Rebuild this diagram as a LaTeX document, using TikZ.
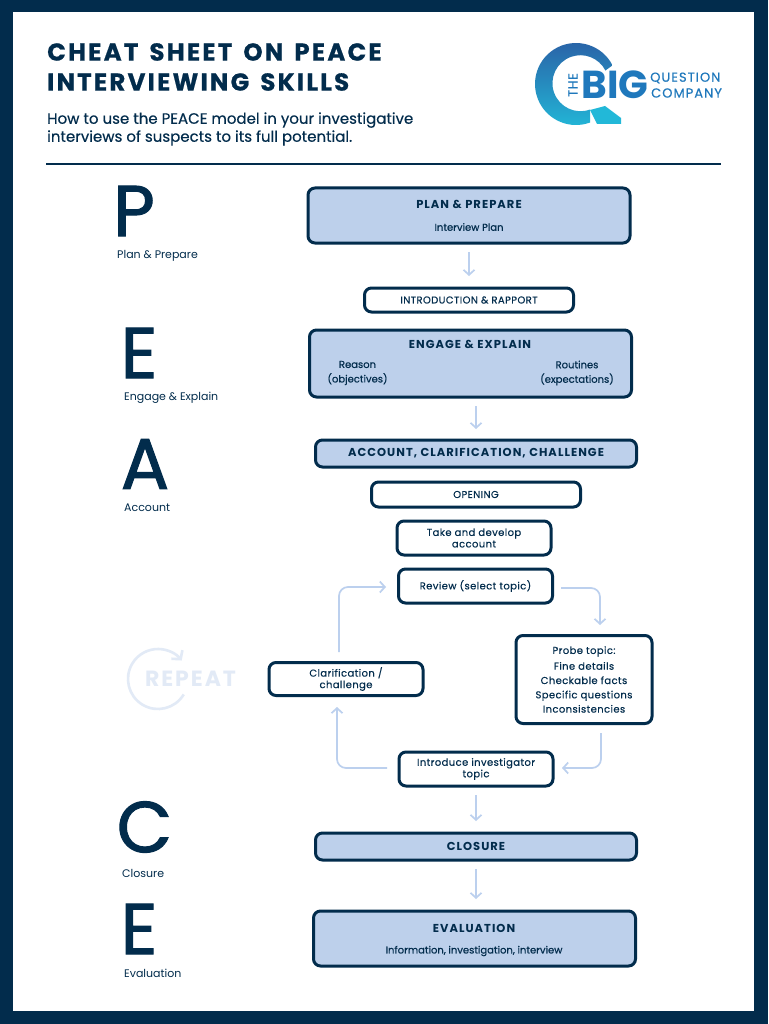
\documentclass[tikz,border=0pt]{standalone}
\usepackage{fontspec}
\setmainfont{Poppins}
\newfontfamily\widefont[LetterSpace=4,FakeBold=0.3]{Poppins}
\newfontfamily\headfont[LetterSpace=9]{Poppins}
\newfontfamily\titlefont[LetterSpace=9,FakeBold=0.6,WordSpace=1.5]{Poppins}
\newfontfamily\leadfont[FakeBold=0.4]{Poppins}
\newfontfamily\letterfont[FakeBold=1.4]{Poppins}
\newfontfamily\logofont[LetterSpace=8,FakeBold=0.5]{Poppins}
\usetikzlibrary{positioning,arrows.meta}
\definecolor{navy}{HTML}{022C4C}
\definecolor{boxblue}{HTML}{BDD0EB}
\definecolor{flowblue}{HTML}{BCD0EE}
\definecolor{paleblue}{HTML}{E2EAF6}
\definecolor{logoblue}{HTML}{1F78BC}
\definecolor{logotop}{HTML}{2A5FA5}
\definecolor{logoend}{HTML}{22B8D8}
\begin{document}
\begin{tikzpicture}[
	x=1pt, y=-1pt,
	rec/.style   = {draw=navy, line width=3pt, rounded corners=7pt, inner sep=0pt, outer sep=0pt, align=center, text=navy, font=\fontsize{10}{11.5}\selectfont\widefont},
	head/.style  = {rec, fill=boxblue},
	tall/.style  = {head, minimum width=322pt, minimum height=55pt},
	band/.style  = {head, minimum width=321pt, minimum height=27pt, font=\fontsize{11.5}{12}\selectfont\headfont\bfseries},
	slim/.style  = {rec, minimum width=209pt, minimum height=25pt},
	stepbox/.style  = {rec, minimum width=154pt, minimum height=34pt},
	heading/.style = {inner sep=0pt, text=navy, font=\fontsize{11.5}{12}\selectfont\headfont\bfseries},
	plain/.style = {inner sep=0pt, align=center, text=navy, font=\fontsize{10}{14.5}\selectfont\leadfont},
	letter/.style = {text=navy, inner sep=0pt, font=\fontsize{72}{72}\selectfont\letterfont},
	caption/.style = {text=navy, inner sep=0pt, font=\fontsize{11}{12}\selectfont},
	flow/.style  = {draw=flowblue, line width=1.7pt, -{Straight Barb[length=5pt,width=11pt]}, rounded corners=9pt},
	]
	% page frame and header
	\useasboundingbox (0,0) rectangle (768,1024);
	\fill[navy] (0,0) rectangle (768,1024);
	\fill[white] (13,12) rectangle (754,1011);
	\node[anchor=west, inner sep=0pt, text=navy, align=left, font=\fontsize{24.5}{30}\selectfont\titlefont\bfseries] (title) at (47,67) {CHEAT SHEET ON PEACE\\INTERVIEWING SKILLS};
	\node[anchor=west, inner sep=0pt, text=navy, align=left, font=\fontsize{15}{18}\selectfont\leadfont] (intro text) at (47,129) {How to use the PEACE model in your investigative\\interviews of suspects to its full potential.};
	\draw[navy, line width=2pt] (46,164) -- (721,164);
	
	% logo
	\shade[top color=logotop, bottom color=logoend] (576,84) ++(-27:41) arc[start angle=-27, end angle=-290, radius=41] -- ++(0,-13) arc[start angle=-290, end angle=-27, radius=28] -- cycle;
	\fill[logoend] (590,110) -- (605,106) -- (621,118) -- (621,124) -- (597,124) -- cycle;
	\node[rotate=90, inner sep=0pt, text=logoblue, font=\fontsize{13}{13}\selectfont\widefont] (the) at (573,85) {THE};
	\node[inner sep=0pt, text=logoblue, font=\fontsize{39}{39}\selectfont\bfseries] (big) at (615,85) {BIG};
	\node[anchor=west, inner sep=0pt, text=logoblue, font=\fontsize{13}{13}\selectfont\logofont] (question) at (650,78) {QUESTION};
	\node[anchor=west, inner sep=0pt, text=logoblue, font=\fontsize{13}{13}\selectfont\logofont] (company) at (651,93) {COMPANY};
	
	% main boxes, top to bottom
	\node[tall] (plan) at (469,215.5) {};
	\node[slim, minimum height=24pt, below=45pt of plan] (rapport) {INTRODUCTION \& RAPPORT};
	\node[tall, minimum height=67pt, below=18pt of rapport, xshift=1.5pt] (engage) {};
	\node[band, below=43pt of engage, xshift=5.5pt] (account) {ACCOUNT, CLARIFICATION, CHALLENGE};
	\node[slim, below=15pt of account] (opening) {OPENING};
	\node[stepbox, below=14pt of opening, xshift=-2pt] (take) {Take and develop\\account};
	\node[stepbox, below=14pt of take, xshift=1.5pt] (review) {Review (select topic)};
	\node[stepbox, below=149pt of review, xshift=.5pt] (topic) {Introduce investigator\\topic};
	\node[rec, minimum width=136pt, minimum height=88pt, font=\fontsize{10}{14.3}\selectfont\widefont] (probe) at (584,679.5) {Probe topic:\\[1.5pt]Fine details\\Checkable facts\\Specific questions\\Inconsistencies};
	\node[stepbox, minimum height=33pt] (clarify) at (346,679) {Clarification /\\challenge};
	\node[band, below=47pt of topic] (closure) {CLOSURE};
	\node[tall, below=51pt of closure, xshift=-1.5pt] (evaluation) {};
	
	% texts inside the large boxes
	\node[heading] (plan title) at (469,204) {PLAN \& PREPARE};
	\node[plain] (plan text) at (469,227) {Interview Plan};
	\node[heading] (engage title) at (470,344) {ENGAGE \& EXPLAIN};
	\node[plain] (reason) at (357.5,373) {Reason\\(objectives)};
	\node[plain] (routines) at (577,373) {Routines\\(expectations)};
	\node[heading] (evaluation title) at (474,928) {EVALUATION};
	\node[plain] (evaluation text) at (474,951) {Information, investigation, interview};
	
	% big letters with their captions
	\node[letter] (p) at (134,211) {P};
	\node[caption, anchor=west] (p text) at (117,256) {Plan \& Prepare};
	\node[letter] (e1) at (139,353) {E};
	\node[caption, anchor=west] (e1 text) at (124,398) {Engage \& Explain};
	\node[letter] (a) at (145,464) {A};
	\node[caption, anchor=west] (a text) at (124,508) {Account};
	\node[letter] (c) at (144.5,827) {C};
	\node[caption, anchor=west] (c text) at (122,873) {Closure};
	\node[letter] (e2) at (139,929) {E};
	\node[caption, anchor=west] (e2 text) at (124,973) {Evaluation};
	
	% repeat mark
	\draw[paleblue, line width=2.6pt, -{Straight Barb[length=6pt,width=14pt]}] (158,679) ++(31:30) arc[start angle=31, end angle=322, radius=30];
	\node[inner sep=0pt, text=paleblue, font=\fontsize{22}{22}\selectfont\headfont\bfseries] (repeat) at (190.5,679) {REPEAT};
	
	% free ends of the bent connectors
	\coordinate (review out) at (561,588);
	\coordinate (probe in) at (600,625);
	\coordinate (probe out) at (601,733);
	\coordinate (topic in) at (562,768);
	\coordinate (topic out) at (387,768);
	\coordinate (clarify in) at (337,707);
	\coordinate (clarify out) at (339,652);
	\coordinate (review in) at (386,587);
	
	% arrows down the middle
	\foreach \from/\to in {plan/rapport, topic/closure, closure/evaluation}
	\draw[flow, shorten <=9pt, shorten >=12pt] (\from.south) -- (\from.south |- \to.north);
	\draw[flow, shorten <=9pt, shorten >=11pt] (account.north |- engage.south) -- (account.north);
	
	% arrows round the loop
	\draw[flow] (review out) -| (probe in);
	\draw[flow] (probe out) |- (topic in);
	\draw[flow] (topic out) -| (clarify in);
	\draw[flow] (clarify out) |- (review in);
\end{tikzpicture}
\end{document}
